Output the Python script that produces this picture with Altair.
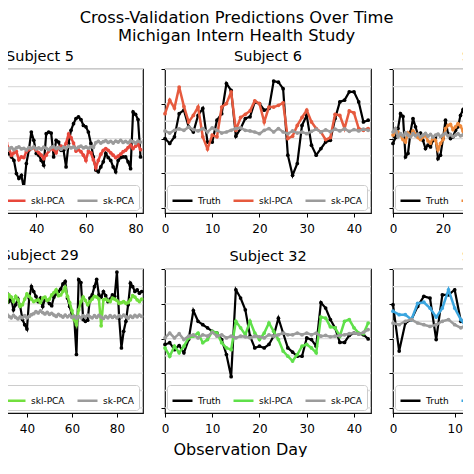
import altair as alt
import pandas as pd

# ---------------- data ----------------
SERIES = ["Truth", "skl-PCA", "sk-PCA"]
TRUTH_COLOR = "#000000"
SK_COLOR = "#9b9b9b"
GRID_VALUES = [-2, -1.5, -1, -0.5, 0, 0.5, 1, 1.5, 2]
Y_TICKS = [-2, -1, 0, 1, 2]
Y_DOMAIN = [-2.15, 2.01]

# Subject 5 (days 26..82 visible)
s5_start = 26
s5_truth = [-0.34, -0.38, -0.48, -0.43, -0.53, -0.63, -1.01, -1.15, -1.06, -1.44,
            -0.72, -0.34, 0.19, -0.05, -0.43, -0.48, -0.63, -0.77, 0.14, 0.19,
            0.16, -0.53, -0.05, -0.10, -0.34, -0.34, -0.82, -0.14, 0.24, 0.43,
            0.58, 0.63, 0.55, 0.38, 0.34, 0.19, -0.14, -0.53, -0.91, -0.96,
            -0.82, -0.67, -0.43, -0.55, -0.63, -0.82, -0.96, -0.63, -0.55, -0.53,
            -0.53, -0.67, -0.87, 0.77, 0.70, 0.55, -0.53]
s5_skl = [-0.34, -0.22, -0.13, -0.29, -0.48, -0.41, -0.38, -0.61, -0.53, -0.55,
          -0.38, -0.32, -0.29, -0.26, -0.34, -0.41, -0.48, -0.58, -0.48, -0.36,
          -0.29, -0.32, -0.41, -0.26, -0.22, -0.26, -0.14, 0.13, 0.03, -0.13,
          -0.36, -0.32, -0.38, -0.48, -0.63, -0.36, -0.41, -0.61, -0.84, -0.63,
          -0.45, -0.34, -0.29, -0.34, -0.41, -0.48, -0.55, -0.51, -0.45, -0.38,
          -0.34, -0.26, -0.19, -0.29, -0.22, -0.16, -0.32]
s5_sk = [-0.27, -0.31, -0.25, -0.30, -0.26, -0.32, -0.27, -0.24, -0.30, -0.28,
         -0.33, -0.26, -0.29, -0.24, -0.30, -0.27, -0.31, -0.25, -0.28, -0.32,
         -0.26, -0.23, -0.29, -0.26, -0.31, -0.25, -0.28, -0.22, -0.27, -0.24,
         -0.29, -0.25, -0.22, -0.27, -0.24, -0.28, -0.23, -0.26, -0.12, -0.08,
         -0.13, -0.09, -0.06, -0.11, -0.08, -0.13, -0.07, -0.10, -0.05, -0.11,
         -0.08, -0.12, -0.06, -0.09, -0.13, -0.07, -0.10]

# Subject 6 (days 0..43)
s6_start = 0
s6_truth = [0.0, -0.14, 0.05, 0.72, 0.82, 0.34, 0.19, 0.67, 0.87, -0.10,
            -0.10, 0.53, 0.72, 1.59, 1.39, 0.07, 0.29, 0.58, 0.63, 1.06,
            1.01, 0.82, 0.87, 1.66, 1.63, 1.44, -0.48, -1.06, -0.72, 0.38,
            0.67, -0.19, -0.48, -0.29, -0.10, -0.05, 0.58, 1.06, 1.11, 1.35,
            1.35, 1.06, 0.48, 0.53]
s6_skl = [0.72, 1.11, 0.88, 1.49, 0.93, 0.48, 0.67, 0.91, 0.05, -0.30,
          0.10, 0.05, 0.91, 1.01, 1.35, 0.24, 0.61, 0.70, 0.80, 1.09,
          1.01, 0.48, 0.91, 0.91, 0.96, 1.03, 0.0, 0.07, 0.38, 0.61,
          0.82, 0.48, 0.29, 0.19, -0.03, 0.03, 0.70, 0.67, 0.29, 0.80,
          0.74, 0.29, 0.24, 0.29]
s6_sk = [0.22, 0.16, 0.24, 0.28, 0.24, 0.33, 0.26, 0.22, 0.29, 0.19,
         0.31, 0.24, 0.16, 0.19, 0.24, 0.29, 0.31, 0.24, 0.22, 0.19,
         0.14, 0.24, 0.29, 0.19, 0.29, 0.19, 0.14, 0.22, 0.16, 0.19,
         0.14, 0.21, 0.27, 0.19, 0.25, 0.20, 0.27, 0.22, 0.28, 0.21,
         0.26, 0.22, 0.27, 0.24]

# Top-right subject (days 0..33 visible)
s7_start = 0
s7_truth = [-0.14, 0.03, 0.29, 0.72, 0.64, -0.53, -0.43, 0.19, 0.58, 0.34,
            0.10, 0.16, -0.05, -0.29, -0.19, -0.24, -0.05, 0.05, -0.58, -0.48,
            0.0, 0.53, 0.14, 0.0, 0.05, 0.24, 0.34, 0.67, 0.84, 0.63,
            0.10, 0.29, -0.05, -0.14]
s7_skl = [0.10, 0.22, 0.19, 0.10, -0.03, -0.10, 0.16, 0.07, 0.22, 0.13,
          0.03, -0.03, 0.05, 0.10, -0.07, -0.13, 0.03, -0.05, -0.32, -0.14,
          -0.03, 0.29, 0.38, 0.41, 0.26, 0.34, 0.43, 0.36, 0.22, -0.16,
          0.24, 0.34, 0.19, 0.14]
s7_sk = [0.19, 0.29, 0.05, 0.14, 0.08, 0.17, 0.10, 0.05, 0.14, 0.08,
         0.13, 0.05, 0.10, 0.15, 0.07, 0.12, 0.04, 0.10, 0.13, 0.06,
         0.11, 0.15, 0.08, 0.12, 0.06, 0.10, 0.14, 0.08, 0.11, 0.05,
         0.12, 0.09, 0.14, 0.10]

# Subject 29 (days 29..91 visible)
s29_start = 29
s29_truth = [1.50, 1.79, 1.31, 1.07, 1.17, 0.83, 0.98, 1.14, 0.93, 0.55,
             0.40, 0.28, 1.17, 1.50, 1.36, 1.22, 1.07, 1.17, 0.93, 1.14,
             1.10, 1.01, 0.95, 1.20, 1.29, 1.36, 1.43, 1.58, 1.65, 1.17,
             0.93, 0.69, 0.62, -0.46, 1.70, 1.62, 0.55, 0.50, 0.53, 1.17,
             1.26, 1.50, 1.71, 1.26, 1.20, 1.36, 1.24, 1.07, 1.14, 1.26,
             1.22, 1.92, 0.59, -0.27, 0.21, 0.50, 0.98, 1.60, 1.50, 1.36,
             1.41, 1.31, 1.36]
s29_skl = [1.07, 1.17, 1.04, 1.26, 1.20, 1.07, 1.22, 1.12, 0.93, 0.98,
           1.14, 1.29, 1.22, 1.14, 1.07, 1.10, 1.12, 1.04, 1.17, 1.20,
           1.10, 1.14, 1.26, 1.33, 1.41, 1.24, 1.26, 1.36, 1.48, 1.22,
           1.04, 0.81, 0.55, 0.40, 0.83, 1.07, 1.20, 1.10, 0.98, 1.07,
           1.14, 1.22, 1.20, 1.14, 0.37, 1.12, 1.14, 1.10, 1.07, 1.17,
           1.14, 1.10, 1.02, 1.04, 1.07, 1.02, 1.04, 1.12, 1.24, 1.20,
           1.12, 1.07, 1.14]
s29_sk = [0.68, 0.62, 0.70, 0.64, 0.60, 0.67, 0.61, 0.57, 0.63, 0.60,
          0.66, 0.60, 0.64, 0.69, 0.72, 0.78, 0.74, 0.80, 0.75, 0.71,
          0.76, 0.70, 0.73, 0.68, 0.64, 0.70, 0.66, 0.62, 0.68, 0.63,
          0.67, 0.61, 0.65, 0.59, 0.64, 0.60, 0.66, 0.62, 0.68, 0.63,
          0.60, 0.66, 0.61, 0.67, 0.62, 0.58, 0.64, 0.60, 0.66, 0.61,
          0.65, 0.60, 0.66, 0.62, 0.68, 0.63, 0.59, 0.65, 0.61, 0.67,
          0.63, 0.68, 0.64]

# Subject 32 (days 0..43)
s32_start = 0
s32_truth = [-0.17, -0.12, -0.32, -0.20, -0.41, -0.03, 0.81, 0.50, 0.40, 0.31,
             0.21, 0.16, -0.03, -0.46, -1.10, 1.41, 1.17, 0.83, 0.07, -0.27,
             -0.22, -0.27, -0.17, 0.07, 0.59, 0.16, -0.27, -0.39, -0.51, -0.51,
             0.02, -0.03, -0.22, 1.04, 0.88, 0.55, 0.31, -0.11, -0.11, 0.09,
             0.16, 0.14, 0.11, -0.01]
s32_skl = [-0.27, -0.51, -0.22, -0.41, -0.22, 0.02, 0.07, 0.16, -0.12, -0.03,
           0.21, 0.16, -0.12, -0.27, -0.32, 0.50, 0.31, 0.11, 0.50, 0.16,
           -0.03, 0.16, 0.45, 0.21, -0.03, -0.36, -0.51, -0.65, -0.46, -0.22,
           -0.17, -0.27, -0.41, 0.62, 0.59, 0.34, 0.31, 0.07, 0.50, 0.55,
           0.31, 0.16, 0.14, 0.45]
s32_sk = [0.02, 0.16, 0.02, 0.14, -0.03, 0.07, 0.11, 0.02, 0.11, 0.07,
          0.18, 0.07, 0.11, 0.02, 0.07, 0.02, 0.07, 0.05, 0.02, 0.07,
          0.05, 0.02, 0.11, 0.07, 0.11, 0.16, 0.11, 0.11, 0.16, 0.11,
          0.16, 0.11, 0.16, 0.07, 0.09, 0.05, 0.07, 0.09, 0.11, 0.14,
          0.16, 0.13, 0.18, 0.26]

# Bottom-right subject (days 0..14 visible)
s8_start = 0
s8_truth = [0.98, -0.36, 0.45, 0.55, 0.93, 1.22, 1.17, -0.03, 1.26, 1.26,
            1.41, 0.50, 0.55, 0.93, 0.98]
s8_skl = [0.79, 0.69, 0.69, 0.55, 1.02, 1.05, 0.88, 0.62, 0.88, 1.41,
          0.88, 0.55, 0.31, 1.02, 1.07]
s8_sk = [0.45, 0.40, 0.50, 0.55, 0.45, 0.40, 0.35, 0.40, 0.50, 0.55,
         0.40, 0.31, 0.40, 0.50, 0.35]

PANELS = [
    dict(title="Subject 5", start=s5_start, truth=s5_truth, skl=s5_skl, sk=s5_sk,
         color="#e8473b", xdomain=[0, 83], xticks=[0, 20, 40, 60, 80]),
    dict(title="Subject 6", start=s6_start, truth=s6_truth, skl=s6_skl, sk=s6_sk,
         color="#e65a3e", xdomain=[0, 43.6], xticks=[0, 10, 20, 30, 40]),
    dict(title="Subject 7", start=s7_start, truth=s7_truth, skl=s7_skl, sk=s7_sk,
         color="#ef8a3c", xdomain=[0, 82.4], xticks=[0, 20, 40, 60, 80]),
    dict(title="Subject 29", start=s29_start, truth=s29_truth, skl=s29_skl, sk=s29_sk,
         color="#72df3e", xdomain=[0, 91.6], xticks=[0, 20, 40, 60, 80]),
    dict(title="Subject 32", start=s32_start, truth=s32_truth, skl=s32_skl, sk=s32_sk,
         color="#5fe04a", xdomain=[0, 43.6], xticks=[0, 10, 20, 30, 40], xtitle=True),
    dict(title="Subject 8", start=s8_start, truth=s8_truth, skl=s8_skl, sk=s8_sk,
         color="#3ca6df", xdomain=[0, 33.4], xticks=[0, 10, 20, 30]),
]

FONT = "DejaVu Sans"
W, H = 206, 144


def series_df(start, vals, name):
    return pd.DataFrame({"day": list(range(start, start + len(vals))),
                         "value": vals, "series": name})


def panel(p):
    xscale = alt.Scale(domain=p["xdomain"], nice=False, zero=False)
    yscale = alt.Scale(domain=Y_DOMAIN, nice=False, zero=False)
    ax_kw = dict(values=p["xticks"], grid=False, domain=False, tickSize=4,
                 tickColor="black", labelFontSize=12, labelFont=FONT,
                 labelColor="black", labelPadding=6, labelFlush=False)
    if p.get("xtitle"):
        x_axis = alt.Axis(title="Observation Day", titleFontSize=16, titleFont=FONT,
                          titleFontWeight="normal", titleColor="black",
                          titleX=75, titleY=41, titleBaseline="alphabetic", **ax_kw)
    else:
        x_axis = alt.Axis(title=None, **ax_kw)
    y_axis = alt.Axis(title=None, values=Y_TICKS, labels=False, grid=False, domain=False,
                      tickSize=4, tickColor="black")
    cscale = alt.Scale(domain=SERIES, range=[TRUTH_COLOR, p["color"], SK_COLOR])
    legend = alt.Legend(title=None, orient="none", legendX=2, legendY=116,
                        direction="horizontal", symbolType="stroke", symbolSize=400,
                        symbolStrokeWidth=2.5, labelFontSize=9, labelFont=FONT,
                        labelColor="black", labelOffset=4, columnPadding=7, padding=4,
                        fillColor="white", strokeColor="#cccccc", cornerRadius=3)

    grid = alt.Chart(pd.DataFrame({"g": GRID_VALUES})).mark_rule(
        color="#dddddd", strokeWidth=1.3).encode(
        y=alt.Y("g:Q", scale=yscale, axis=y_axis))

    def line(df, width):
        return alt.Chart(df).mark_line(
            strokeWidth=width,
            point=alt.OverlayMarkDef(size=14, filled=True, opacity=1)).encode(
            x=alt.X("day:Q", scale=xscale, axis=x_axis),
            y=alt.Y("value:Q", scale=yscale, axis=y_axis),
            color=alt.Color("series:N", scale=cscale, legend=legend))

    layers = [
        grid,
        line(series_df(p["start"], p["truth"], "Truth"), 2.2),
        line(series_df(p["start"], p["skl"], "skl-PCA"), 2.5),
        line(series_df(p["start"], p["sk"], "sk-PCA"), 2.5),
    ]
    return alt.layer(*layers).properties(
        width=W, height=H,
        title=alt.TitleParams(p["title"], fontSize=14.5, font=FONT, fontWeight="normal",
                              color="black", baseline="alphabetic", offset=-6.5,
                              anchor="middle", frame="group"))


chart = alt.concat(*[panel(p) for p in PANELS], columns=3,
                   spacing={"row": 56, "column": 22}, bounds="flush").resolve_scale(
    color="independent", x="independent", y="independent"
).resolve_legend(color="independent").properties(
    title=alt.TitleParams(["Cross-Validation Predictions Over Time",
                           "Michigan Intern Health Study"],
                          fontSize=16.3, font=FONT, fontWeight="normal", color="black",
                          lineHeight=18, anchor="middle", dx=-30, offset=4),
    padding={"left": -77, "right": -139, "top": 1, "bottom": -1},
).configure(font=FONT).configure_view(stroke="#111111", strokeWidth=1.2)

chart.save("out.html", embed_options={"renderer": "svg", "actions": False})
